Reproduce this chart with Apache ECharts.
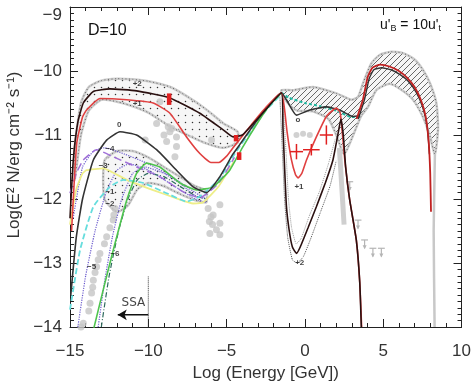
<!DOCTYPE html>
<html><head><meta charset="utf-8">
<script src="https://cdn.jsdelivr.net/npm/echarts@6/dist/echarts.min.js"></script>
<style>html,body{margin:0;padding:0;background:#fff}#c{width:474px;height:387px}</style>
</head><body><div id="c"></div>
<script>
// ---------- axes ----------
const xRange = [-15, 10];
const yRange = [-14, -9];
const xTickStep = 5;
const yTickStep = 1;
const xTitle = 'Log (Energy [GeV])';
const yTitle = 'Log(E² N/erg cm⁻² s⁻¹)';

// ---------- model curves [logE, logFlux] ----------
const curvePlus2 = [[-15,-12.3],[-14.79,-11.39],[-14.5,-10.8],[-14.15,-10.5],[-13.51,-10.32],[-12.45,-10.28],[-10.75,-10.31],[-8.62,-10.42],[-6.71,-10.66],[-5.22,-10.92],[-4.59,-11.03],[-4.0,-11.0],[-3.3,-10.82],[-2.5,-10.6],[-1.5,-10.34],[-1.4,-10.9],[-1.3,-11.5],[-1.18,-12.12],[-1.0,-12.5],[-0.8,-12.75],[-0.54,-12.85],[-0.3,-12.75],[0.2,-12.45],[0.73,-12.12],[1.3,-11.75],[1.79,-11.39],[2.1,-11.0],[2.3,-10.75],[2.45,-11.0],[2.6,-11.5],[2.85,-12.0],[3.28,-12.64],[3.5,-13.3],[3.6,-14.0]];
const curvePlus1 = [[-14.9,-12.5],[-14.57,-11.13],[-14.2,-10.72],[-13.94,-10.61],[-13.09,-10.43],[-11.38,-10.45],[-9.69,-10.5],[-8.62,-10.66],[-7.56,-11.03],[-6.71,-11.29],[-6.0,-11.43],[-5.5,-11.43],[-5.0,-11.33],[-4.59,-11.2],[-3.52,-10.87],[-2.46,-10.56],[-1.5,-10.34],[-1.3,-10.6],[-1.14,-10.95],[-0.86,-11.39],[-0.6,-11.62],[-0.44,-11.67],[-0.2,-11.6],[0.1,-11.39],[0.73,-11.03],[1.37,-10.71],[2.0,-10.58],[2.25,-10.65],[2.4,-11.0],[2.55,-11.4],[2.85,-12.0],[3.28,-12.64],[3.5,-13.3],[3.62,-14.0]];
const curveZero = [[-14.95,-13.5],[-14.6,-12.6],[-14.2,-12.0],[-13.51,-11.39],[-12.66,-11.08],[-11.81,-10.95],[-10.75,-11.0],[-9.47,-11.23],[-8.2,-11.55],[-7.14,-11.81],[-6.28,-11.9],[-5.43,-11.65],[-4.6,-11.3],[-4.16,-11.15],[-3.3,-10.85],[-2.5,-10.6],[-1.5,-10.34],[-1.18,-10.45],[-0.54,-10.69],[0.31,-10.61],[1.37,-10.56],[2.22,-10.61],[3.07,-10.71],[3.5,-10.7]];
const curveHumpRed = [[3.3,-10.75],[3.7,-10.45],[4.0,-10.1],[4.3,-9.95],[4.8,-9.9],[5.4,-9.93],[6.0,-10.0],[6.5,-10.1],[7.0,-10.25],[7.4,-10.45],[7.7,-10.7],[7.9,-11.1],[8.0,-11.6],[8.05,-12.2]];
const curveHumpBlack = [[3.4,-10.75],[3.8,-10.45],[4.1,-10.12],[4.4,-9.98],[4.9,-9.95],[5.5,-9.98],[6.1,-10.06],[6.6,-10.16],[7.1,-10.33],[7.5,-10.55],[7.8,-10.85],[7.95,-11.3]];
const curveGreen = [[-13.51,-14.05],[-12.88,-13.42],[-12.24,-12.8],[-11.38,-12.02],[-10.75,-11.6],[-10.11,-11.44],[-9.26,-11.5],[-7.98,-11.75],[-6.92,-11.86],[-5.86,-11.81],[-4.8,-11.55],[-4.0,-11.2],[-3.0,-10.8],[-2.3,-10.55],[-1.5,-10.34]];
const curveTeal = [[-1.5,-10.34],[-1.0,-10.42],[0,-10.5],[1,-10.55],[2,-10.62],[3,-10.72],[3.6,-10.72]];
const curveCyan = [[-15,-13.73],[-14.36,-12.8],[-13.51,-12.12],[-12.45,-11.81],[-11.6,-11.7],[-10.32,-11.75],[-8.83,-11.91],[-7.56,-12.04],[-6.71,-11.96],[-5.5,-11.7],[-4.5,-11.3],[-3.5,-10.95],[-2.5,-10.62],[-1.5,-10.36]];
const curvePurpleDash = [[-15,-11.91],[-14.6,-11.6],[-14.15,-11.39],[-13.3,-11.23],[-12.24,-11.34],[-10.75,-11.5],[-9.26,-11.65],[-7.77,-11.89],[-6.71,-11.98],[-5.5,-11.75],[-4.5,-11.35]];
const curveYellow = [[-15,-12.4],[-14.6,-11.85],[-14.2,-11.6],[-13.94,-11.55],[-12.88,-11.52],[-11.38,-11.7],[-9.69,-11.86],[-8.2,-11.99],[-7.14,-12.07],[-6.5,-12.05],[-5.5,-11.8],[-4.5,-11.4]];
const curveDot1 = [[-14.8,-12.3],[-14.2,-11.5],[-13.5,-11.25],[-12.8,-11.2],[-11.5,-11.3],[-10,-11.45],[-8.5,-11.65],[-7,-11.9],[-6.3,-12.0]];
const curveDot2 = [[-14.5,-14],[-14.0,-13.2],[-13.4,-12.5],[-12.7,-11.9],[-12,-11.55],[-11.2,-11.45],[-10,-11.55],[-9,-11.7],[-8,-11.85],[-7,-12.0],[-6.3,-12.05]];
const curveDot3 = [[-13.2,-14],[-12.8,-13.3],[-12.3,-12.6],[-11.7,-12.0],[-11.0,-11.6],[-10.2,-11.5],[-9,-11.6],[-8,-11.75],[-7,-11.95],[-6.3,-12.0]];
const curveDashDot = [[-13.0,-14],[-12.5,-13.2],[-11.9,-12.5],[-11.3,-12.0],[-10.7,-11.7],[-10,-11.6],[-9,-11.65],[-8,-11.8],[-7,-11.95],[-6.3,-12.0]];
const curveDipOuter = [[-1.6,-10.4],[-1.45,-11.2],[-1.3,-12.0],[-1.1,-12.6],[-0.8,-12.95],[-0.5,-13.0],[-0.1,-12.9],[0.4,-12.6],[1.0,-12.2],[1.6,-11.8],[2.0,-11.4]];
const curveDipInner = [[-1.4,-10.45],[-1.2,-11.3],[-1.05,-12.0],[-0.85,-12.45],[-0.55,-12.7],[-0.25,-12.62],[0.3,-12.25],[0.9,-11.9],[1.5,-11.45],[1.95,-11.05]];
const curveGrayTail = [[8.3,-11.3],[8.22,-12.5],[8.28,-14.0]];
const curveGraySmear = [[2.2,-11.2],[2.35,-11.8],[2.5,-12.4]];

// ---------- uncertainty bands ----------
const bandSyncUpper = [[-14.7,-11.2],[-14.3,-10.5],[-13.8,-10.25],[-13,-10.15],[-12,-10.12],[-11,-10.13],[-10,-10.16],[-8.6,-10.25],[-7.5,-10.4],[-6.3,-10.6],[-5.2,-10.82],[-4.3,-10.95]];
const bandSyncLower = [[-14.7,-11.7],[-14.3,-11.0],[-13.8,-10.62],[-13,-10.45],[-12,-10.48],[-11,-10.55],[-10,-10.65],[-8.6,-10.87],[-7.5,-11.0],[-6.3,-11.13],[-5.2,-11.2],[-4.3,-11.12]];
const bandLowUpper = [[-12.8,-11.4],[-12,-11.25],[-11,-11.25],[-10,-11.35],[-9,-11.5],[-8,-11.65],[-7,-11.8],[-6.3,-11.87]];
const bandLowLower = [[-12.8,-12.0],[-12,-12.2],[-11.3,-12.1],[-10.7,-11.85],[-10,-11.75],[-9,-11.8],[-8,-11.92],[-7,-12.02],[-6.3,-12.05]];
const bandHighUpper = [[-1.5,-10.3],[-0.76,-10.3],[0.52,-10.25],[2.01,-10.35],[2.97,-10.45],[3.4,-10.4],[3.71,-10.19],[4.24,-9.88],[4.77,-9.75],[5.5,-9.7],[6.26,-9.72],[7.0,-9.82],[7.53,-9.98],[8.0,-10.2],[8.39,-10.5],[8.5,-10.9]];
const bandHighLower = [[-1.5,-10.36],[-1.1,-10.5],[-0.5,-10.62],[0.5,-10.63],[1.5,-10.75],[2.0,-11.0],[2.5,-11.3],[3.0,-11.05],[3.6,-10.7],[4.03,-10.56],[4.56,-10.3],[5.41,-10.2],[6.2,-10.3],[6.9,-10.45],[7.5,-10.7],[7.96,-11.0],[8.3,-11.3]];

// ---------- observed data ----------
const grayPoints = [[-12.13,-12.15],[-12.2,-12.25],[-12.24,-12.33],[-12.45,-12.45],[-12.66,-12.59],[-12.8,-12.7],[-13.09,-12.85],[-13.2,-12.95],[-13.3,-13.06],[-13.4,-13.15],[-13.51,-13.27],[-13.55,-13.38],[-13.62,-13.47],[-13.72,-13.63],[-13.8,-13.75],[-14.15,-13.94],[-14.3,-14.0],
  [-9.47,-10.82],[-8.73,-10.87],[-8.62,-10.95],[-8.2,-11.03],[-8.83,-11.1],[-8.2,-11.18],[-8.3,-11.34],[-9.26,-10.48],[-10.2,-11.08],[-5.96,-11.08],[-8.5,-10.9],[-9.0,-11.0],
  [-6.18,-12.15],[-5.86,-12.25],[-5.43,-12.38],[-6.0,-12.28],[-5.65,-12.48],[-5.43,-12.56],[-6.07,-12.54],[-5.43,-12.09],[-5.9,-12.4],[-6.1,-12.35]];
const grayGamma = [[-0.54,-11.0],[-0.12,-10.98],[0.31,-11.0]];
const upperLimits = [[3.39,-12.33],[3.81,-12.64],[4.34,-12.77],[4.88,-12.77],[2.86,-11.73]];
// [x, y, xerr, yerr]
const redCrosses = [[-0.54,-11.26,0.42,0.12],[0.41,-11.23,0.53,0.09],[1.37,-11.0,0.42,0.15]];
const redBars = [[-8.67,-10.44,0,0.09],[-4.4,-11.05,0,0.05],[-4.2,-11.33,0,0.06]];

// ---------- curve labels ----------
const curveLabels = [['+2',-10.71,-10.2],['+1',-10.71,-10.52],['0',-11.85,-10.84],['−4',-12.45,-11.22],['−3',-12.88,-11.48],['−1',-12.45,-11.89],['−2',-12.45,-12.07],['−6',-12.13,-12.85],['−5',-13.62,-13.06],['o',-0.44,-10.77],['+1',-0.38,-11.81],['+2',-0.33,-13.0]];

// SSA marker
const ssaLine = [[-10,-13.21],[-10,-14]];
const ssaArrow = [[-10,-13.81],[-11.95,-13.81]];
const ssaText = [-10.95,-13.62];

// ---------- patterns ----------
function dotPattern(){const c=document.createElement('canvas');c.width=7;c.height=7;const g=c.getContext('2d');g.fillStyle='rgba(230,230,230,0.35)';g.fillRect(0,0,7,7);g.fillStyle='#333';g.beginPath();g.arc(3.5,3.5,0.75,0,Math.PI*2);g.fill();return c;}
function hatchPattern(){const c=document.createElement('canvas');c.width=6;c.height=6;const g=c.getContext('2d');g.fillStyle='rgba(230,230,230,0.35)';g.fillRect(0,0,6,6);g.strokeStyle='#444';g.lineWidth=0.8;g.beginPath();g.moveTo(0,6);g.lineTo(6,0);g.moveTo(-1,1);g.lineTo(1,-1);g.moveTo(5,7);g.lineTo(7,5);g.stroke();return c;}
const dotFill={image:dotPattern(),repeat:'repeat'};
const hatchFill={image:hatchPattern(),repeat:'repeat'};

function bandSeries(upper, lower, fill){
  const pts = upper.concat(lower.slice().reverse());
  return {type:'custom', coordinateSystem:'cartesian2d', z:1, silent:true, data:[[pts[0][0],pts[0][1]]],
    renderItem:function(params, api){
      const p = pts.map(d=>api.coord(d));
      return {type:'group', children:[
        {type:'polygon', shape:{points:p, smooth:0.2}, style:{fill:fill, stroke:'#cdcdcd', lineWidth:2.5}},
        {type:'polygon', shape:{points:p, smooth:0.2}, style:{fill:'none', stroke:'#666', lineWidth:1, lineDash:[1,2.5]}}
      ]};
    }};
}
function line(data, color, width, type, z, opacity){
  return {type:'line', data:data, showSymbol:false, symbol:'none', smooth:0.15, z:z||3, silent:true,
    lineStyle:{color:color, width:width, type:type||'solid', opacity:opacity==null?1:opacity}};
}
function errSeries(data, color, width){
  return {type:'custom', coordinateSystem:'cartesian2d', z:6, silent:true, data:data,
    renderItem:function(params, api){
      const x=api.value(0), y=api.value(1), ex=api.value(2), ey=api.value(3);
      const ch=[];
      if(ex>0){const a=api.coord([x-ex,y]), b=api.coord([x+ex,y]); ch.push({type:'line',shape:{x1:a[0],y1:a[1],x2:b[0],y2:b[1]},style:{stroke:color,lineWidth:width}});}
      const c=api.coord([x,y-ey]), d=api.coord([x,y+ey]);
      ch.push({type:'line',shape:{x1:c[0],y1:c[1],x2:d[0],y2:d[1]},style:{stroke:color,lineWidth:ex>0?width:width*2.5}});
      return {type:'group',children:ch};
    }};
}
function ulSeries(data){
  return {type:'custom', coordinateSystem:'cartesian2d', z:4, silent:true, data:data,
    renderItem:function(params, api){
      const x=api.value(0), y=api.value(1);
      const a=api.coord([x-0.22,y]), b=api.coord([x+0.22,y]), c=api.coord([x,y]), d=api.coord([x,y-0.13]);
      return {type:'group',children:[
        {type:'line',shape:{x1:a[0],y1:a[1],x2:b[0],y2:b[1]},style:{stroke:'#b5b5b5',lineWidth:1.2}},
        {type:'line',shape:{x1:c[0],y1:c[1],x2:d[0],y2:d[1]},style:{stroke:'#b5b5b5',lineWidth:1.2}},
        {type:'polygon',shape:{points:[[d[0]-2,d[1]-3],[d[0]+2,d[1]-3],[d[0],d[1]+1]]},style:{fill:'#b5b5b5'}}
      ]};
    }};
}

const font = 'Liberation Sans, Arial, sans-serif';
const minus = v => (v<0?'−':'')+Math.abs(v);
const axLine = {onZero:false, lineStyle:{color:'#222',width:1}};
const axTick = {inside:true,length:8,lineStyle:{color:'#222'}};

const chart = echarts.init(document.getElementById('c'), null, {renderer:'canvas'});
chart.setOption({
  animation:false,
  backgroundColor:'#fff',
  grid:{left:70,right:12,top:7,bottom:60},
  xAxis:[
    {type:'value',min:xRange[0],max:xRange[1],interval:xTickStep,position:'bottom',
      name:xTitle,nameLocation:'middle',nameGap:33,
      nameTextStyle:{fontSize:17,color:'#333',fontFamily:font},
      axisLabel:{fontSize:17,color:'#333',margin:16,fontFamily:font,formatter:minus},
      axisLine:axLine, axisTick:axTick, splitLine:{show:false},
      minorTick:{show:true,splitNumber:5,length:4,lineStyle:{color:'#222'}}},
    {type:'value',min:xRange[0],max:xRange[1],interval:xTickStep,position:'top',
      axisLabel:{show:false}, axisLine:axLine, axisTick:axTick, splitLine:{show:false},
      minorTick:{show:true,splitNumber:5,length:4,lineStyle:{color:'#222'}}}
  ],
  yAxis:[
    {type:'value',min:yRange[0],max:yRange[1],interval:yTickStep,position:'left',
      axisLabel:{fontSize:17,color:'#333',margin:8,fontFamily:font,
        formatter:v=> v===yRange[1]?'{t|'+minus(v)+'}':minus(v),
        rich:{t:{fontSize:17,color:'#333',fontFamily:font,padding:[16,0,0,0]}}},
      axisLine:axLine, axisTick:axTick, splitLine:{show:false},
      minorTick:{show:true,splitNumber:10,length:4,lineStyle:{color:'#222'}}},
    {type:'value',min:yRange[0],max:yRange[1],interval:yTickStep,position:'right',
      axisLabel:{show:false}, axisLine:axLine, axisTick:axTick, splitLine:{show:false},
      minorTick:{show:true,splitNumber:10,length:4,lineStyle:{color:'#222'}}}
  ],
  series:[
    bandSeries(bandSyncUpper, bandSyncLower, dotFill),
    bandSeries(bandLowUpper, bandLowLower, dotFill),
    bandSeries(bandHighUpper, bandHighLower, hatchFill),
    {type:'scatter', data:grayPoints, symbolSize:7, z:2, silent:true, itemStyle:{color:'#c6c6c6'}},
    {type:'scatter', data:grayGamma, symbolSize:6, z:2, silent:true, itemStyle:{color:'#c6c6c6'}},
    line(curveGraySmear,'#cfcfcf',5,'solid',2),
    line(curveGrayTail,'#c8c8c8',2.5,'solid',2),
    ulSeries(upperLimits),
    line(curveDipOuter,'#555',1,'dotted',3),
    line(curveDipInner,'#999',1,'dotted',3),
    line(curveDot1,'#6a5acd',1.2,'dotted',3),
    line(curveDot2,'#6a5acd',1.2,'dotted',3),
    line(curveDot3,'#6a5acd',1.2,'dotted',3),
    line(curveDashDot,'#2e6b5e',1.2,[5,2,1,2],3),
    line(curveYellow,'#eeee88',1.8,'solid',3),
    line(curveCyan,'#66dddd',1.8,[6,3],3),
    line(curvePurpleDash,'#a070d8',1.5,[8,4],3),
    line(curveGreen,'#4fc44f',1.6,'solid',3),
    line(curveTeal,'#20b8a0',2,[3,2],4),
    line(curveZero,'#333',1.6,'solid',4),
    line(curveHumpBlack,'#333',1.4,'solid',4),
    line(curvePlus1,'#e04040',1.6,'solid',5),
    line(curveHumpRed,'#c02020',1.8,'solid',5),
    line(curvePlus2,'#2a1010',1.6,'solid',5),
    errSeries(redCrosses,'#e02020',1.5),
    errSeries(redBars,'#e02020',1.8),
    line(ssaLine,'#333',1,'dotted',6),
    {type:'line', data:[ssaArrow[0],{value:ssaArrow[1],symbol:'arrow',symbolSize:[8,9],symbolRotate:90}], symbol:'none', showSymbol:true, z:6, silent:true,
      lineStyle:{color:'#111',width:1.5}, itemStyle:{color:'#111'}},
    {type:'scatter', z:7, silent:true, symbolSize:1, itemStyle:{color:'rgba(0,0,0,0)'},
      data:[{name:'SSA',value:ssaText}],
      label:{show:true,position:'inside',formatter:'{b}',fontSize:12,color:'#111',fontFamily:'DejaVu Sans, sans-serif'}},
    {type:'scatter', z:7, silent:true, symbolSize:1, itemStyle:{color:'rgba(0,0,0,0)'},
      data:curveLabels.map(d=>({name:d[0],value:[d[1],d[2]]})),
      label:{show:true,position:'inside',formatter:'{b}',fontSize:8,fontWeight:'bold',color:'#111',fontFamily:font}}
  ],
  graphic:[
    {type:'text', x:14, y:155, rotation:Math.PI/2, style:{text:yTitle, fontSize:17, fill:'#333', fontFamily:font, align:'center', verticalAlign:'middle'}},
    {type:'text', left:88, top:23, style:{text:'D=10', fontSize:16, fill:'#111', fontFamily:font}},
    {type:'text', left:380, top:18, style:{text:"u'{s|B} = 10u'{s|t}", fontSize:14, fill:'#111', fontFamily:font,
      rich:{s:{fontSize:9, fill:'#111', padding:[7,0,0,0], fontFamily:font}}}}
  ]
});
</script>
</body></html>
